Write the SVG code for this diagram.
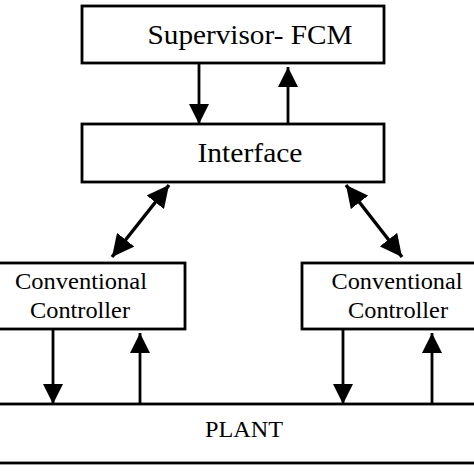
<svg xmlns="http://www.w3.org/2000/svg" width="474" height="474" viewBox="0 0 474 474">
<style>
.box{fill:#fff;stroke:#000;stroke-width:2.8}
.ln{stroke:#000;stroke-width:2.8;fill:none}
.dg{stroke:#000;stroke-width:3.4;fill:none}
.t{font-family:"Liberation Serif","Times New Roman",serif;fill:#000;text-anchor:middle}
.big{font-size:27px}
.sm{font-size:24px}
</style>
<defs>
<marker id="ah" viewBox="0 0 10 10" refX="10" refY="5" markerWidth="20" markerHeight="20" markerUnits="userSpaceOnUse" orient="auto-start-reverse">
<path d="M0,0 L10,5 L0,10 z" fill="#000"/>
</marker>
<marker id="ad" viewBox="0 0 10 10" refX="10" refY="5" markerWidth="22" markerHeight="22" markerUnits="userSpaceOnUse" orient="auto-start-reverse">
<path d="M0,0 L10,5 L0,10 z" fill="#000"/>
</marker>
</defs>
<rect width="474" height="474" fill="#fff"/>
<g id="supervisor">
<rect class="box" x="82" y="6" width="302" height="57"/>
<text class="t big" x="250" y="44" textLength="205" lengthAdjust="spacingAndGlyphs">Supervisor- FCM</text>
</g>
<g id="interface">
<rect class="box" x="82" y="124" width="302" height="58"/>
<text class="t big" x="250" y="162" textLength="105" lengthAdjust="spacingAndGlyphs">Interface</text>
</g>
<g id="controller-left">
<rect class="box" x="-3" y="263" width="188" height="66"/>
<text class="t sm" x="81" y="289" textLength="132" lengthAdjust="spacingAndGlyphs">Conventional</text>
<text class="t sm" x="80" y="318" textLength="100" lengthAdjust="spacingAndGlyphs">Controller</text>
</g>
<g id="controller-right">
<rect class="box" x="302" y="263" width="176" height="66"/>
<text class="t sm" x="397" y="289" textLength="131" lengthAdjust="spacingAndGlyphs">Conventional</text>
<text class="t sm" x="398" y="318" textLength="100" lengthAdjust="spacingAndGlyphs">Controller</text>
</g>
<g id="plant">
<rect class="box" x="-5" y="404" width="484" height="59"/>
<text class="t sm" x="244" y="437" textLength="78" lengthAdjust="spacingAndGlyphs">PLANT</text>
</g>
<g id="connectors">
<line class="ln" x1="199" y1="63" x2="199" y2="124" marker-end="url(#ah)"/>
<line class="ln" x1="288" y1="124" x2="288" y2="67" marker-end="url(#ah)"/>
<line class="dg" x1="169" y1="185" x2="112" y2="257" marker-start="url(#ad)" marker-end="url(#ad)"/>
<line class="dg" x1="346" y1="185" x2="402" y2="257" marker-start="url(#ad)" marker-end="url(#ad)"/>
<line class="ln" x1="53" y1="329" x2="53" y2="404" marker-end="url(#ah)"/>
<line class="ln" x1="140" y1="404" x2="140" y2="333" marker-end="url(#ah)"/>
<line class="ln" x1="343" y1="329" x2="343" y2="404" marker-end="url(#ah)"/>
<line class="ln" x1="432" y1="404" x2="432" y2="333" marker-end="url(#ah)"/>
</g>
</svg>
